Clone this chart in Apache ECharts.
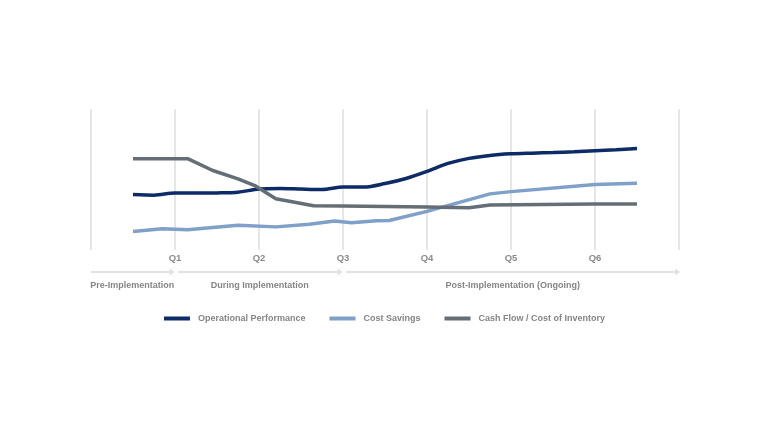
<!DOCTYPE html>
<html>
<head>
<meta charset="utf-8">
<style>
  html, body { margin: 0; padding: 0; background: #fff; }
  #chart { width: 769px; height: 433px; }
</style>
<script src="https://cdn.jsdelivr.net/npm/echarts@6/dist/echarts.min.js"></script>
</head>
<body>
<div id="chart"></div>
<script>
// quarters on the x axis (value axis 0..7)
var tickLabels = ['', 'Q1', 'Q2', 'Q3', 'Q4', 'Q5', 'Q6', ''];

// series points: [x position in quarters, index value]
var operational = [
  [0.5, 39.3], [0.75, 38.9], [1, 40.4], [1.25, 40.4], [1.5, 40.5], [1.75, 41],
  [2, 43.2], [2.25, 43.6], [2.5, 43.2], [2.75, 42.9], [3, 44.6], [3.25, 44.6],
  [3.5, 47.1], [3.75, 50.7], [4, 55.7], [4.25, 61.4], [4.5, 65], [4.75, 67.1],
  [5, 68.2], [5.25, 68.7], [5.5, 69.1], [5.75, 69.6], [6, 70.4], [6.25, 71.1], [6.5, 71.9]
];
var costSavings = [
  [0.5, 13.1], [0.85, 15], [1.15, 14.3], [1.75, 17.5], [2.2, 16.4], [2.6, 18.2],
  [2.9, 20.5], [3.1, 19.3], [3.4, 20.7], [3.55, 20.9], [4, 27.4], [4.75, 39.8],
  [5, 41.4], [6, 46.4], [6.5, 47.4]
];
var cashFlow = [
  [0.5, 64.8], [1.15, 64.8], [1.45, 56.4], [1.75, 50.5], [1.95, 45.7], [2.2, 36.4],
  [2.65, 31.4], [3, 31.2], [4, 30.5], [4.5, 30], [4.75, 31.9], [6, 32.6], [6.5, 32.6]
];

// phases drawn as arrows under the axis
var phaseNames = ['Pre-Implementation', 'During Implementation', 'Post-Implementation (Ongoing)'];
var phaseStart = [0, 1.04, 3.04];
var phaseEnd = [0.98, 2.98, 7];

var seriesNames = ['Operational Performance', 'Cost Savings', 'Cash Flow / Cost of Inventory'];
var colors = ['#0d2b66', '#7fa0c8', '#636e76'];

var myChart = echarts.init(document.getElementById('chart'));

var option = {
  animation: false,
  color: colors,
  textStyle: { fontFamily: 'Liberation Sans, Arial, sans-serif' },
  grid: { left: 91, right: 90, top: 109, bottom: 183 },
  legend: {
    top: 309,
    left: 'center',
    icon: 'rect',
    itemWidth: 26,
    itemHeight: 4,
    itemGap: 24,
    data: seriesNames,
    textStyle: { color: '#858585', fontSize: 9, fontWeight: 'bold', padding: [0, 0, 0, 3] }
  },
  xAxis: {
    type: 'value',
    min: 0,
    max: 7,
    interval: 1,
    axisLine: { show: false },
    axisTick: { show: false },
    splitLine: { show: true, lineStyle: { color: '#dedede', width: 1.5 } },
    axisLabel: {
      margin: 3,
      color: '#8a8a8a',
      fontSize: 9.5,
      fontWeight: 'bold',
      formatter: function (v) { return tickLabels[Math.round(v)] || ''; }
    }
  },
  yAxis: { type: 'value', min: 0, max: 100, show: false, splitLine: { show: false } },
  series: [
    { name: seriesNames[0], type: 'line', data: operational, smooth: 0.3, showSymbol: false, lineStyle: { width: 3.5 } },
    { name: seriesNames[1], type: 'line', data: costSavings, showSymbol: false, lineStyle: { width: 3.5 } },
    { name: seriesNames[2], type: 'line', data: cashFlow, showSymbol: false, lineStyle: { width: 3.5 } }
  ]
};
myChart.setOption(option);

// phase arrows placed through the x axis scale
var arrowY = 272;
var graphics = [];
phaseNames.forEach(function (name, i) {
  var x1 = myChart.convertToPixel({ xAxisIndex: 0 }, phaseStart[i]);
  var x2 = myChart.convertToPixel({ xAxisIndex: 0 }, phaseEnd[i]);
  graphics.push({
    type: 'line',
    shape: { x1: x1, y1: arrowY, x2: x2 - 1, y2: arrowY },
    style: { stroke: '#e2e2e2', lineWidth: 2 }
  });
  graphics.push({
    type: 'polyline',
    shape: { points: [[x2 - 4, arrowY - 2.5], [x2, arrowY], [x2 - 4, arrowY + 2.5]] },
    style: { stroke: '#e2e2e2', lineWidth: 1.5, fill: null }
  });
  graphics.push({
    type: 'text',
    x: (x1 + x2) / 2,
    y: 286,
    style: {
      text: name,
      align: 'center',
      verticalAlign: 'middle',
      fill: '#858585',
      font: 'bold 9px Liberation Sans, Arial, sans-serif'
    }
  });
});
myChart.setOption({ graphic: graphics });
</script>
</body>
</html>
